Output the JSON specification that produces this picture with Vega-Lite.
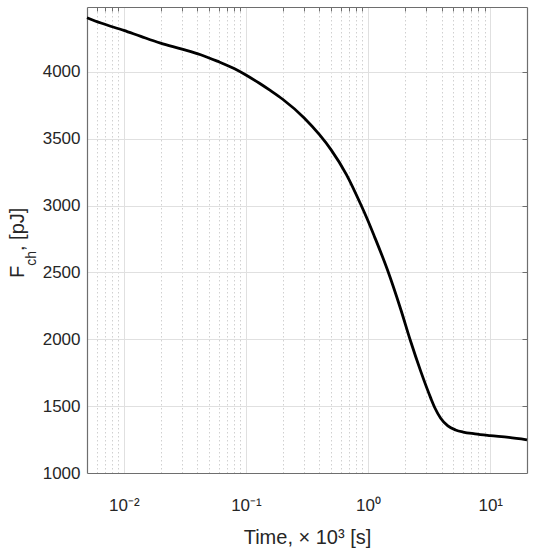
{
  "$schema": "https://vega.github.io/schema/vega-lite/v6.json",
  "width": 440,
  "height": 466,
  "autosize": "none",
  "padding": {"left": 87, "top": 7, "right": 8, "bottom": 77},
  "background": "white",
  "data": {
    "values": [
      {"t": 0.005, "F": 4405},
      {"t": 0.0065, "F": 4365},
      {"t": 0.01, "F": 4310},
      {"t": 0.0138, "F": 4265},
      {"t": 0.02, "F": 4215},
      {"t": 0.03, "F": 4170},
      {"t": 0.0426, "F": 4128},
      {"t": 0.0582, "F": 4080},
      {"t": 0.08, "F": 4025},
      {"t": 0.1, "F": 3977},
      {"t": 0.13, "F": 3913},
      {"t": 0.157, "F": 3863},
      {"t": 0.2, "F": 3795},
      {"t": 0.3, "F": 3655},
      {"t": 0.4, "F": 3530},
      {"t": 0.5, "F": 3415},
      {"t": 0.665, "F": 3232},
      {"t": 0.87, "F": 3010},
      {"t": 1.0, "F": 2885},
      {"t": 1.12, "F": 2775},
      {"t": 1.44, "F": 2520},
      {"t": 1.85, "F": 2225},
      {"t": 2.23, "F": 1985},
      {"t": 2.7, "F": 1760},
      {"t": 3.26, "F": 1560},
      {"t": 3.51, "F": 1490},
      {"t": 3.93, "F": 1410},
      {"t": 4.5, "F": 1352},
      {"t": 5.2, "F": 1322},
      {"t": 6.0, "F": 1306},
      {"t": 7.5, "F": 1293},
      {"t": 10, "F": 1280},
      {"t": 14.2, "F": 1266},
      {"t": 20, "F": 1248}
    ]
  },
  "config": {
    "view": {"stroke": null},
    "axis": {
      "labelFont": "Liberation Sans",
      "titleFont": "Liberation Sans",
      "labelColor": "#262626",
      "titleColor": "#262626",
      "titleFontWeight": "normal",
      "labelFontSize": 17,
      "titleFontSize": 20,
      "domainColor": "#6e6e6e",
      "domainWidth": 1.2,
      "tickColor": "#6e6e6e",
      "gridColor": "#e0e0e0",
      "gridWidth": 1
    }
  },
  "layer": [
    {
      "mark": {"type": "line", "color": "black", "strokeWidth": 2.8, "interpolate": "monotone"},
      "encoding": {
        "x": {
          "field": "t",
          "type": "quantitative",
          "scale": {"type": "log", "domain": [0.005, 20], "nice": false},
          "axis": {
            "orient": "bottom",
            "values": [0.01, 0.1, 1, 10],
            "ticks": false,
            "grid": true,
            "labelPadding": 37,
            "labelBaseline": "alphabetic",
            "labelExpr": "'10' + (datum.value < 0.05 ? '⁻²' : datum.value < 0.5 ? '⁻¹' : datum.value < 5 ? '⁰' : '¹')",
            "title": "Time, × 10³ [s]",
            "titleX": 220,
            "titleY": 70,
            "titleAlign": "center",
            "titleBaseline": "alphabetic"
          }
        },
        "y": {
          "field": "F",
          "type": "quantitative",
          "scale": {"domain": [1000, 4485], "nice": false, "zero": false},
          "axis": {
            "orient": "left",
            "values": [1000, 1500, 2000, 2500, 3000, 3500, 4000],
            "format": "d",
            "ticks": false,
            "grid": true,
            "gridOpacity": {"condition": {"test": "datum.value == 1000", "value": 0}, "value": 1},
            "labelPadding": 7,
            "title": "F",
            "titleAngle": 270,
            "titleX": -63.5,
            "titleY": 270.5,
            "titleAlign": "left",
            "titleBaseline": "alphabetic"
          }
        }
      }
    },
    {
      "mark": {"type": "line", "opacity": 0},
      "encoding": {
        "x": {
          "field": "t",
          "type": "quantitative",
          "axis": {
            "orient": "top",
            "values": [0.006, 0.007, 0.008, 0.009, 0.02, 0.03, 0.04, 0.05, 0.06, 0.07, 0.08, 0.09, 0.2, 0.3, 0.4, 0.5, 0.6, 0.7, 0.8, 0.9, 2, 3, 4, 5, 6, 7, 8, 9],
            "labels": false,
            "grid": true,
            "gridDash": [1.5, 2.5],
            "gridColor": "#d0d0d0",
            "ticks": true,
            "tickSize": -4,
            "title": ", [pJ]",
            "titleAngle": 270,
            "titleX": -63.5,
            "titleY": 243.5,
            "titleAlign": "left",
            "titleBaseline": "alphabetic"
          }
        },
        "y": {
          "field": "F",
          "type": "quantitative",
          "axis": {
            "orient": "right",
            "values": [1500, 2000, 2500, 3000, 3500, 4000],
            "labels": false,
            "grid": false,
            "ticks": true,
            "tickSize": -5,
            "title": "ch",
            "titleFontSize": 14,
            "titleAngle": 270,
            "titleX": -492,
            "titleY": 258.3,
            "titleAlign": "left",
            "titleBaseline": "alphabetic"
          }
        }
      }
    }
  ],
  "resolve": {"axis": {"x": "independent", "y": "independent"}}
}
